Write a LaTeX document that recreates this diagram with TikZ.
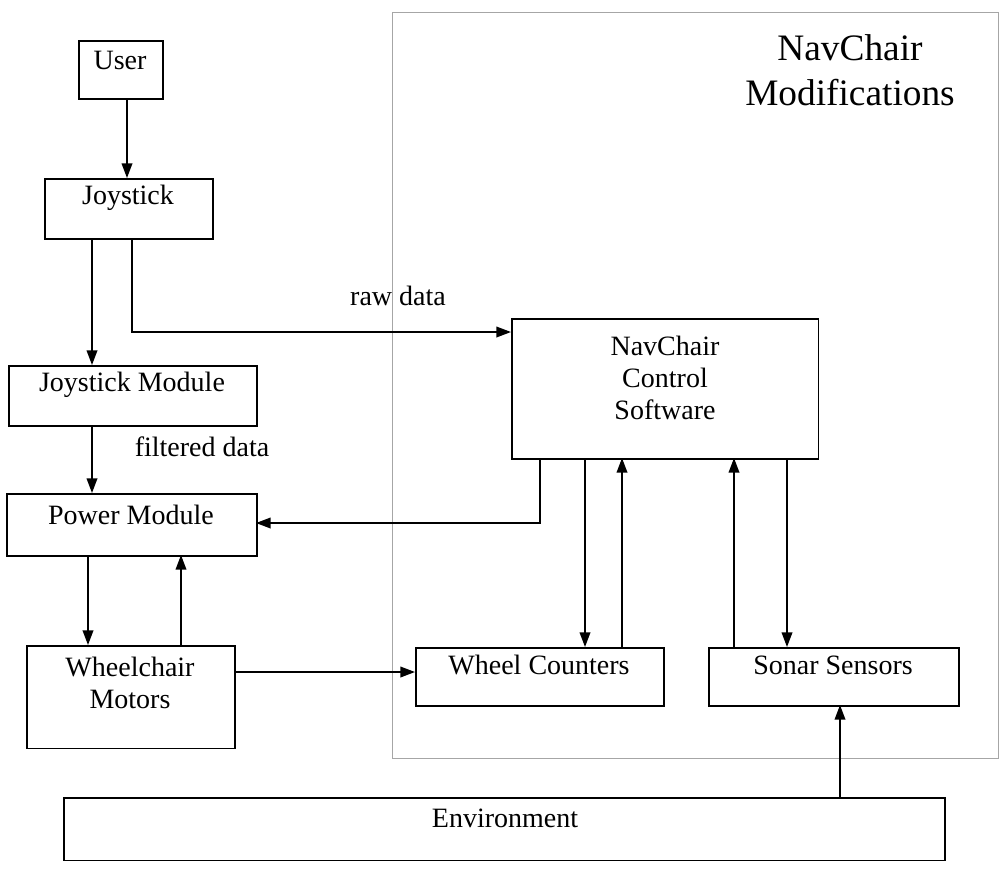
\documentclass[tikz,border=0pt]{standalone}
\usepackage{fontspec}
\setmainfont{Liberation Serif}
\usetikzlibrary{arrows.meta}
\begin{document}
\begin{tikzpicture}[x=0.75pt,y=-0.75pt,
  box/.style={draw,line width=1.2pt,inner sep=0pt,font=\fontsize{21}{24}\selectfont},
  arr/.style={line width=1.2pt,-{Triangle[length=11pt,width=8pt]}},
  lbl/.style={font=\fontsize{21}{24}\selectfont}]
\useasboundingbox (0,0) rectangle (1002,869);
\draw[gray!70,line width=0.6pt] (392,12) rectangle (998,758);
\node[lbl,font=\fontsize{28}{34}\selectfont,align=center] (title) at (850,70) {NavChair\\Modifications};
\node[box,minimum width=84pt*0.75/0.75*0.75,anchor=north west,minimum width=63pt,minimum height=43.5pt,text depth=0pt] (user) at (78,40) {};
\node[lbl] at (120,60) {User};
\node[box,anchor=north west,minimum width=126pt,minimum height=45pt] (joy) at (44,178) {};
\node[lbl] at (128,198) {Joystick};
\node[box,anchor=north west,minimum width=186pt,minimum height=45pt] (jm) at (8,365) {};
\node[lbl] at (132,385) {Joystick Module};
\node[box,anchor=north west,minimum width=187.5pt,minimum height=46.5pt] (pm) at (6,493) {};
\node[lbl] at (131,515) {Power Module};
\node[box,anchor=north west,minimum width=156pt,minimum height=77pt] (wm) at (26,645) {};
\node[lbl,align=center] at (130,683) {Wheelchair\\Motors};
\node[box,anchor=north west,minimum width=230pt,minimum height=105pt] (nc) at (511,318) {};
\node[lbl,align=center] at (665,378) {NavChair\\Control\\Software};
\node[box,anchor=north west,minimum width=186pt,minimum height=43.5pt] (wc) at (415,647) {};
\node[lbl] at (539,665) {Wheel Counters};
\node[box,anchor=north west,minimum width=187.5pt,minimum height=43.5pt] (ss) at (708,647) {};
\node[lbl] at (833,665) {Sonar Sensors};
\node[box,anchor=north west,minimum width=661pt,minimum height=47pt] (env) at (63,797) {};
\node[lbl] at (505,818) {Environment};
\node[lbl] at (398,296) {raw data};
\node[lbl] at (202,447) {filtered data};
\coordinate (a1) at (127,98); \coordinate (a2) at (127,178);
\draw[arr] (a1) -- (a2);
\draw[arr] (92,238) -- (92,365);
\draw[arr] (132,238) -- (132,332) -- (511,332);
\draw[arr] (92,425) -- (92,493);
\draw[arr] (540,458) -- (540,523) -- (256,523);
\draw[arr] (88,555) -- (88,645);
\draw[arr] (181,645) -- (181,555);
\draw[arr] (234,672) -- (415,672);
\draw[arr] (585,458) -- (585,647);
\draw[arr] (622,647) -- (622,458);
\draw[arr] (734,647) -- (734,458);
\draw[arr] (787,458) -- (787,647);
\draw[arr] (840,797) -- (840,705);
\end{tikzpicture}
\end{document}
